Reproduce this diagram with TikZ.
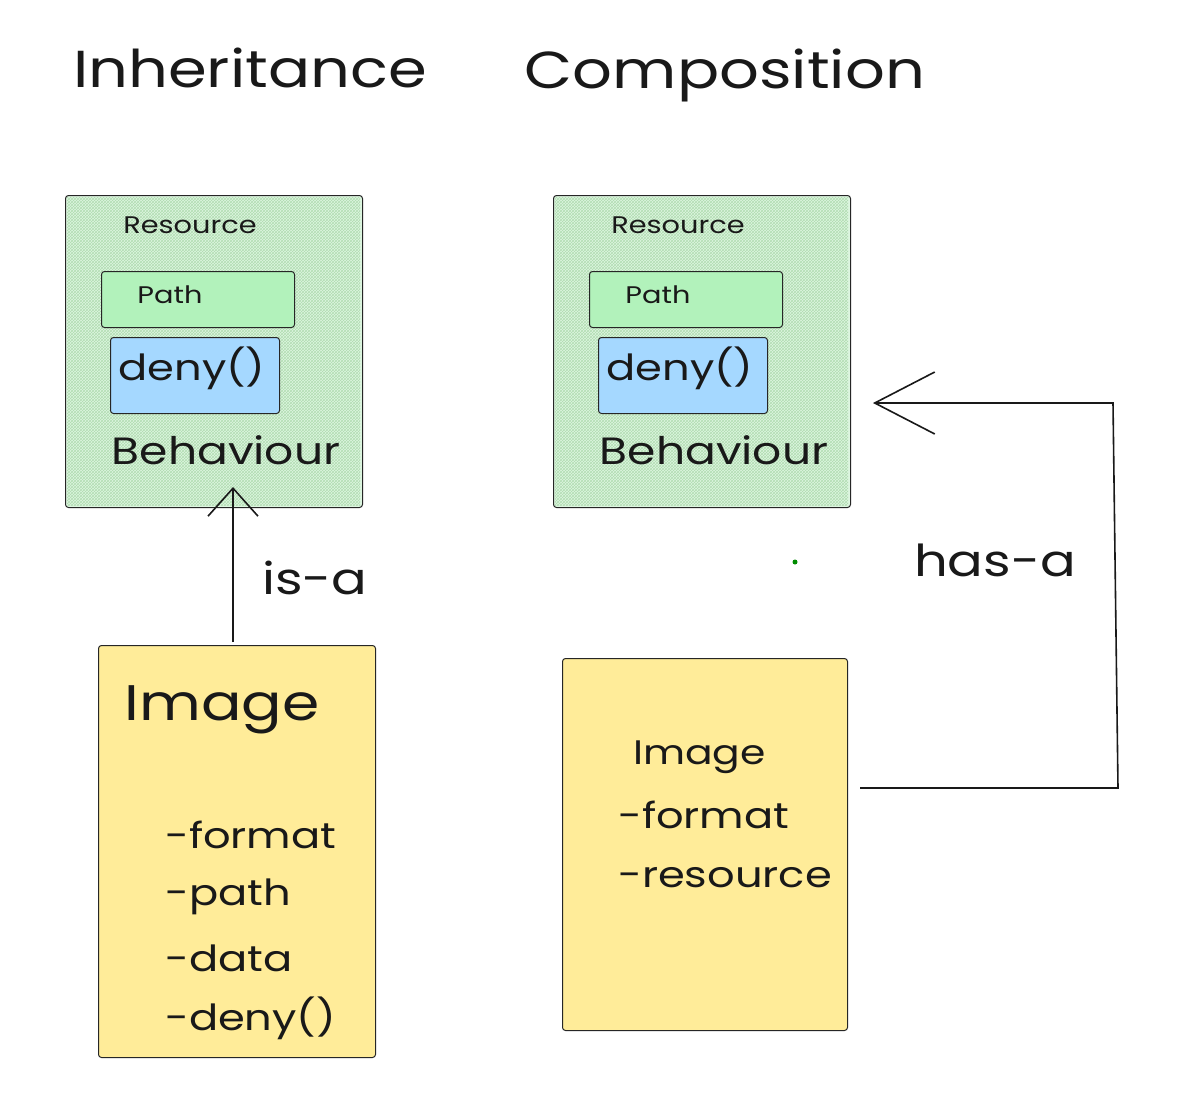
\documentclass[tikz,border=0pt]{standalone}
\usepackage{fontspec}
\setmainfont{Poppins}
\usetikzlibrary{patterns,arrows.meta}
\definecolor{gfill}{HTML}{DDF6E0}
\definecolor{pathc}{HTML}{B2F2BB}
\definecolor{denyc}{HTML}{A5D8FF}
\definecolor{yel}{HTML}{FFEC99}
\newcommand{\widetxt}[1]{\scalebox{1.2}[1]{#1}}
\tikzset{
 px/.style={x=1pt,y=-1pt},
 gbox/.style={draw=black!85,fill=gfill,rounded corners=3pt,line width=1pt},
 pbox/.style={draw=black!85,fill=pathc,rounded corners=3pt,line width=1pt},
 dbox/.style={draw=black!85,fill=denyc,rounded corners=3pt,line width=1pt},
 ybox/.style={draw=black!85,fill=yel,rounded corners=3pt,line width=1pt},
 conn/.style={draw=black!90,line width=1.6pt,-{Straight Barb[length=28pt,width=50pt,line width=1.6pt]}},
 connb/.style={draw=black!90,line width=1.6pt,-{Straight Barb[length=60pt,width=62pt,line width=1.6pt]}},
 txt/.style={inner sep=0pt,text=black!90},
}
\begin{document}
\begin{tikzpicture}[px]
\useasboundingbox[fill=white] (0,0) rectangle (1200,1111);
\node[txt,font=\fontsize{52}{54}\selectfont] (t1) at (250,68) {\widetxt{Inheritance}};
\node[txt,font=\fontsize{52}{54}\selectfont] (t2) at (725,75) {\widetxt{Composition}};
\foreach \dx/\n in {0/L,488/R}{
 \begin{scope}[xshift=\dx]
 \node[gbox,minimum width=297pt,minimum height=312pt,anchor=north west] (g\n) at (65,195) {};
 \fill[pattern=crosshatch,pattern color=green!55!black!30] (67,197) rectangle (360,505);
 \node[txt,font=\fontsize{24}{26}\selectfont] (r\n) at (190,225) {\widetxt{Resource}};
 \node[pbox,minimum width=193pt,minimum height=56pt,anchor=north west] (p\n) at (101,271) {};
 \node[txt,font=\fontsize{24}{26}\selectfont] at (170,295) {\widetxt{Path}};
 \node[dbox,minimum width=169pt,minimum height=76pt,anchor=north west] (d\n) at (110,337) {};
 \node[txt,font=\fontsize{36}{38}\selectfont] at (192,368) {\widetxt{deny()}};
 \node[txt,font=\fontsize{38}{40}\selectfont] (b\n) at (226,450) {\widetxt{Behaviour}};
 \end{scope}
}
\node[ybox,minimum width=277pt,minimum height=412pt,anchor=north west] (yL) at (98,645) {};
\node[txt,font=\fontsize{50}{52}\selectfont] at (222,710) {\widetxt{Image}};
\node[txt,font=\fontsize{36}{38}\selectfont,anchor=west] at (165,835) {\widetxt{-format}};
\node[txt,font=\fontsize{36}{38}\selectfont,anchor=west] at (165,897) {\widetxt{-path}};
\node[txt,font=\fontsize{36}{38}\selectfont,anchor=west] at (165,958) {\widetxt{-data}};
\node[txt,font=\fontsize{36}{38}\selectfont,anchor=west] at (165,1018) {\widetxt{-deny()}};
\node[ybox,minimum width=285pt,minimum height=372pt,anchor=north west] (yR) at (562,658) {};
\node[txt,font=\fontsize{34}{36}\selectfont,anchor=west] at (633,757) {\widetxt{Image}};
\node[txt,font=\fontsize{36}{38}\selectfont,anchor=west] at (618,815) {\widetxt{-format}};
\node[txt,font=\fontsize{36}{38}\selectfont,anchor=west] at (618,878) {\widetxt{-resource}};
\coordinate (a1) at (233,642);
\coordinate (a2) at (233,487);
\draw[conn] (a1) -- (a2);
\node[txt,font=\fontsize{44}{46}\selectfont] (isa) at (315,578) {\widetxt{is-a}};
\coordinate (h1) at (860,788);
\coordinate (h2) at (1118,788);
\coordinate (h3) at (1113,403);
\coordinate (h4) at (873,403);
\draw[connb] (h1) -- (h2) -- (h3) -- (h4);
\node[txt,font=\fontsize{44}{46}\selectfont] (hasa) at (995,560) {\widetxt{has-a}};
\fill[green!55!black] (795,562) circle (2.5pt);
\end{tikzpicture}
\end{document}
